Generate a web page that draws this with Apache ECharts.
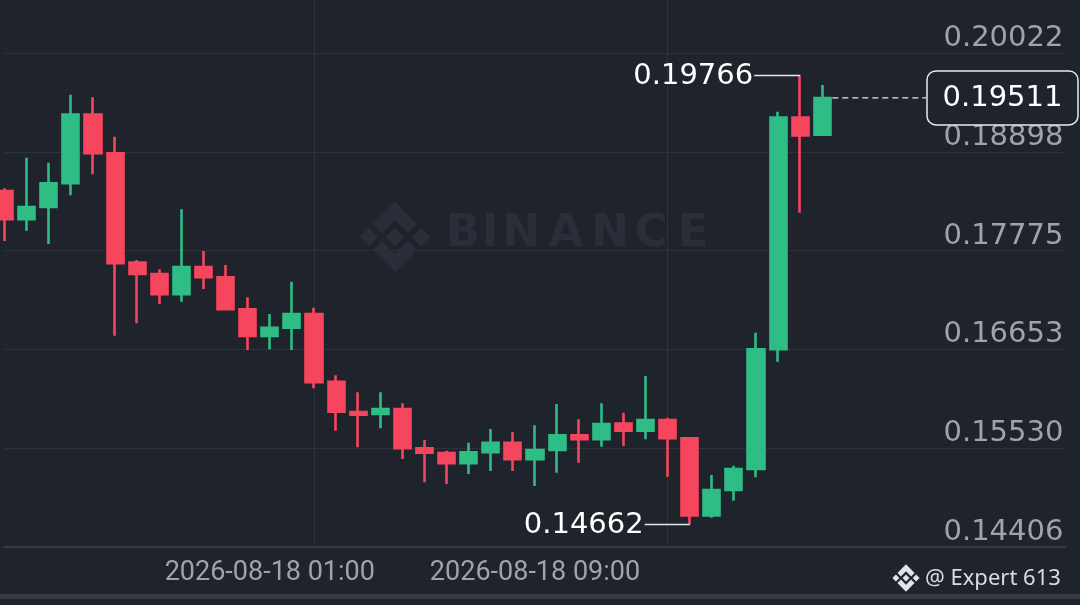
<!DOCTYPE html>
<html><head><meta charset="utf-8">
<script src="https://cdn.jsdelivr.net/npm/echarts@6/dist/echarts.min.js"></script>
<style>html,body{margin:0;padding:0;background:#1f232c;overflow:hidden}#c{width:1080px;height:605px}</style>
</head><body><div id="c"></div>
<script>
const opens  = [0.18453,0.18132,0.18271,0.18541,0.19321,0.18882,0.17640,0.17510,0.17279,0.17589,0.17472,0.17108,0.16805,0.16899,0.17055,0.16285,0.15941,0.15918,0.15975,0.15528,0.15475,0.15358,0.15483,0.15592,0.15403,0.15509,0.15676,0.15631,0.15810,0.15728,0.15850,0.15642,0.14764,0.15054,0.15293,0.16654,0.19287,0.19093];
const closes = [0.18132,0.18271,0.18541,0.19321,0.18882,0.17631,0.17510,0.17279,0.17589,0.17472,0.17108,0.16805,0.16899,0.17055,0.16279,0.15944,0.15910,0.15975,0.15528,0.15478,0.15358,0.15483,0.15592,0.15403,0.15509,0.15676,0.15631,0.15805,0.15728,0.15850,0.15642,0.14764,0.15054,0.15293,0.16654,0.19287,0.19086,0.19511];
const lows   = [0.17885,0.18002,0.17851,0.18404,0.18643,0.16808,0.16949,0.17169,0.17195,0.17339,0.17098,0.16646,0.16654,0.16646,0.16210,0.15728,0.15540,0.15756,0.15407,0.15142,0.15122,0.15236,0.15270,0.15270,0.15100,0.15251,0.15365,0.15546,0.15554,0.15631,0.15205,0.14662,0.14739,0.14933,0.15199,0.16513,0.18207,0.19086];
const highs  = [0.18484,0.18832,0.18775,0.19548,0.19518,0.19071,0.17669,0.17563,0.18245,0.17771,0.17612,0.17245,0.17055,0.17422,0.17127,0.16358,0.16165,0.16165,0.16040,0.15623,0.15501,0.15592,0.15748,0.15714,0.15790,0.16032,0.15858,0.16040,0.15933,0.16350,0.15876,0.15645,0.15225,0.15330,0.16842,0.19355,0.19766,0.19658];
const yTicks = [0.14406,0.15530,0.16653,0.17775,0.18898,0.20022];
const xTickLabels = ['2026-08-18 01:00','2026-08-18 09:00'];
const xLabelIdx = [12,24];
const xGridIdx = [14,30];
const lastPrice = 0.19511;
const watermarkText = 'BINANCE';
const creditText = '@ Expert 613';

// 30-minute time slots (38 candles + empty future slots)
const categories = [];
const t0 = Date.UTC(2026,7,17,18,0);
const pad = n => String(n).padStart(2,'0');
for (let i = 0; i < 49; i++) {
  const d = new Date(t0 + i*1800000);
  categories.push(d.getUTCFullYear()+'-'+pad(d.getUTCMonth()+1)+'-'+pad(d.getUTCDate())+' '+pad(d.getUTCHours())+':'+pad(d.getUTCMinutes()));
}
const candles = opens.map((o,i)=>[o, closes[i], lows[i], highs[i]]);

const BG = '#1f232c', UP = '#2ebd85', DOWN = '#f6465d', GRID = '#2d323b', LBL = '#9ea3ad';
const chart = echarts.init(document.getElementById('c'), null, {renderer:'canvas'});
chart.setOption({
  backgroundColor: BG,
  animation: false,
  grid: {left: 4.6, right: 14.6, top: 0, bottom: 58},
  xAxis: {
    type: 'category', data: categories, boundaryGap: false,
    axisLine: {show: true, lineStyle: {color: '#363b45', width: 2}},
    axisTick: {show: false},
    axisLabel: {
      interval: (i) => xLabelIdx.includes(i),
      formatter: (v, i) => { const k = xLabelIdx.indexOf(i); return k >= 0 ? xTickLabels[k] : ''; },
      color: LBL, fontSize: 27, lineHeight: 30, margin: 11,
      fontFamily: "Roboto,sans-serif"
    },
    splitLine: {show: true, interval: (i) => xGridIdx.includes(i), lineStyle: {color: GRID, width: 1}}
  },
  yAxis: {
    type: 'value', position: 'right', min: 0.14406, max: 0.206245, scale: true,
    axisLine: {show: false},
    axisTick: {show: false, customValues: yTicks},
    axisLabel: {
      inside: true, customValues: yTicks, formatter: v => v.toFixed(5),
      color: LBL, fontSize: 29, lineHeight: 29, fontFamily: "'DejaVu Sans',sans-serif",
      verticalAlign: 'bottom', margin: 2
    },
    splitLine: {show: true, lineStyle: {color: GRID, width: 1}}
  },
  series: [{
    type: 'candlestick', data: candles, barWidth: 16.6, clip: false,
    itemStyle: {color: UP, color0: DOWN, borderColor: UP, borderColor0: DOWN, borderWidth: 2.6}
  }]
});

function logo(cx, cy, s, color, z) {
  const shapes = [
    [[0,-9],[9,0],[0,9],[-9,0]],
    [[-35,0],[-26,-9],[-17,0],[-26,9]],
    [[35,0],[26,-9],[17,0],[26,9]],
    [[0,-35],[22,-13],[13,-4],[0,-17],[-13,-4],[-22,-13]],
    [[0,35],[22,13],[13,4],[0,17],[-13,4],[-22,13]]
  ];
  return shapes.map(p => ({type:'polygon', z: z, silent: true,
    shape: {points: p.map(q => [cx + q[0]*s, cy + q[1]*s])}, style: {fill: color}}));
}

const hiIdx = highs.indexOf(Math.max(...highs));
const loIdx = lows.indexOf(Math.min(...lows));
const pHi = chart.convertToPixel({seriesIndex: 0}, [hiIdx, highs[hiIdx]]);
const pLo = chart.convertToPixel({seriesIndex: 0}, [loIdx, lows[loIdx]]);
const pLast = chart.convertToPixel({seriesIndex: 0}, [closes.length - 1, lastPrice]);
const FONT = "29px 'DejaVu Sans',sans-serif";

const wmCenters = [463,490,521,566,610,651,693];
const graphics = [];
watermarkText.split('').forEach((ch, i) => graphics.push({
  type: 'text', z: 0, silent: true, x: wmCenters[i], y: 234,
  style: {text: ch, fill: '#292e38', font: "bold 45px 'DejaVu Sans',sans-serif", align: 'center', verticalAlign: 'middle'}
}));
graphics.push(...logo(395, 237, 1, '#292e38', 0));
graphics.push(
  {type:'line', z: 10, shape:{x1:pHi[0]-46, y1:pHi[1], x2:pHi[0], y2:pHi[1]}, style:{stroke:'#e6e8eb', lineWidth:1.5}},
  {type:'text', z: 10, x: pHi[0]-47, y: pHi[1]+1, style:{text: highs[hiIdx].toFixed(5), fill:'#ffffff', font: FONT, align:'right', verticalAlign:'middle'}},
  {type:'line', z: 10, shape:{x1:pLo[0]-45, y1:pLo[1], x2:pLo[0], y2:pLo[1]}, style:{stroke:'#e6e8eb', lineWidth:1.5}},
  {type:'text', z: 10, x: pLo[0]-46, y: pLo[1]+1, style:{text: lows[loIdx].toFixed(5), fill:'#ffffff', font: FONT, align:'right', verticalAlign:'middle'}},
  {type:'line', z: 10, shape:{x1:pLast[0]+10, y1:pLast[1], x2:926, y2:pLast[1]}, style:{stroke:'#e6e8eb', lineWidth:1.3, lineDash:[6,4]}},
  {type:'rect', z: 10, shape:{x:927, y:pLast[1]-27, width:151, height:54, r:9}, style:{fill:BG, stroke:'#e8eaed', lineWidth:1.5}},
  {type:'text', z: 11, x: 1002.5, y: pLast[1]+1, style:{text: lastPrice.toFixed(5), fill:'#ffffff', font: FONT, align:'center', verticalAlign:'middle'}},
  {type:'rect', z: 10, silent: true, shape:{x:0, y:594, width:1080, height:5}, style:{fill:'#343944'}},
  {type:'text', z: 10, x: 925, y: 579, style:{text: creditText, fill:'#d9dce1', font:"22px 'Noto Sans',sans-serif", align:'left', verticalAlign:'middle'}}
);
graphics.push(...logo(906, 578, 0.39, '#e0e3e8', 10));
chart.setOption({graphic: graphics});
</script></body></html>
